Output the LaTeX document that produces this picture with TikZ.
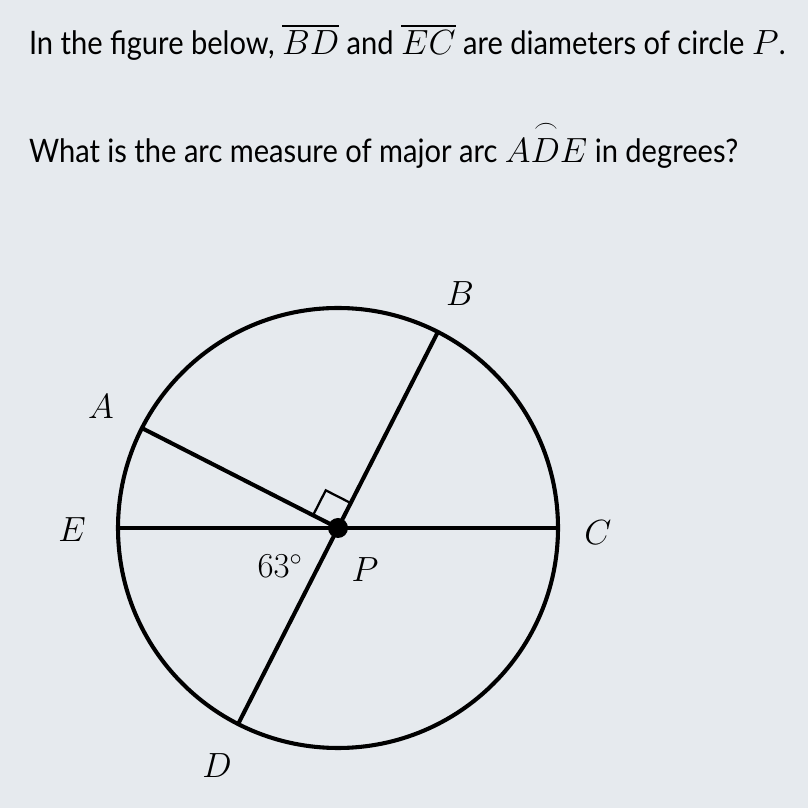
\documentclass[tikz,border=0pt]{standalone}
\usepackage{amsmath}
\usepackage{fontspec}
\setmainfont{Lato}[FakeStretch=0.9]
\definecolor{paper}{HTML}{E6EAEE}

\begin{document}
\begin{tikzpicture}[x=0.025cm, y=0.025cm, line width=2.9pt,
  lbl/.style={inner sep=0pt, font=\fontsize{24}{28}\selectfont},
  txt/.style={anchor=base west, inner sep=0pt, font=\fontsize{23}{28}\selectfont}]
  \fill[paper] (0,0) rectangle (808,808);
  \useasboundingbox (0,0) rectangle (808,808);
  \node[txt] (q1) at (27,753) {In the figure below, $\overline{BD}$ and $\overline{EC}$ are diameters of circle $P$.};
  \node[txt] (q2) at (27,645) {What is the arc measure of major arc $\overset{\frown}{ADE}$ in degrees?};
  \coordinate (P) at (338,280);
  \path (P) ++(63:220) coordinate (B)
        (P) ++(243:220) coordinate (D)
        (P) ++(153:220) coordinate (A)
        (P) ++(180:220) coordinate (E)
        (P) ++(0:220) coordinate (C)
        (P) ++(153:28) coordinate (ra) ++(63:28) coordinate (rc)
        (P) ++(63:28) coordinate (rb);
  \draw (P) circle [radius=220];
  \draw (E) -- (C);
  \draw (B) -- (D);
  \draw (A) -- (P);
  \draw[line width=1.6pt] (ra) -- (rc) -- (rb);
  \fill (P) circle [radius=10];
  \node[lbl] (lB) at (460,514) {$B$};
  \node[lbl] (lA) at (101,401) {$A$};
  \node[lbl] (lE) at (72,278) {$E$};
  \node[lbl] (lC) at (598,275) {$C$};
  \node[lbl] (lP) at (365,238) {$P$};
  \node[lbl] (l63) at (280,242) {$63^\circ$};
  \node[lbl] (lD) at (217,42) {$D$};
\end{tikzpicture}
\end{document}
